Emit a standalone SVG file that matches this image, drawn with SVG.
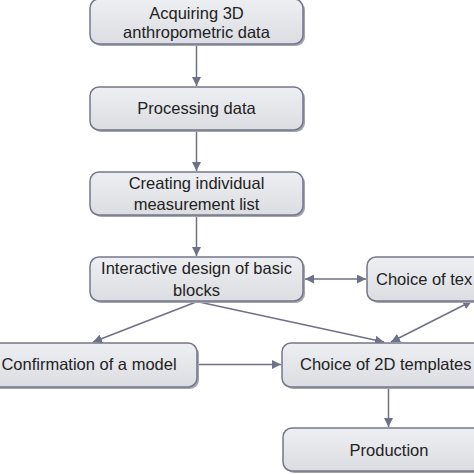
<svg xmlns="http://www.w3.org/2000/svg" width="474" height="474" viewBox="0 0 474 474">
<style>
.box{fill:url(#g);stroke:#74778a;stroke-width:1.5}
.sh{fill:#a3a5b2}
.t{font-family:"Liberation Sans",Arial,sans-serif;font-size:16.5px;fill:#222;text-anchor:middle}
.tl{font-family:"Liberation Sans",Arial,sans-serif;font-size:16.5px;fill:#222}
.c{stroke:#6e7188;stroke-width:1.5;fill:none}
</style>
<defs>
<linearGradient id="g" x1="0" y1="0" x2="0" y2="1">
<stop offset="0" stop-color="#eeeff2"/>
<stop offset="1" stop-color="#dcdde2"/>
</linearGradient>
<marker id="ah" viewBox="0 0 10 10" refX="10" refY="5" markerWidth="9" markerHeight="9" markerUnits="userSpaceOnUse" orient="auto-start-reverse">
<path d="M0,0 L10,5 L0,10 Z" fill="#6e7188"/>
</marker>
</defs>
<rect width="474" height="474" fill="#fff"/>
<g id="connectors">
<line class="c" x1="196.5" y1="45" x2="196.5" y2="86" marker-end="url(#ah)"/>
<line class="c" x1="196.5" y1="130" x2="196.5" y2="171" marker-end="url(#ah)"/>
<line class="c" x1="196.5" y1="216" x2="196.5" y2="256" marker-end="url(#ah)"/>
<line class="c" x1="305" y1="279" x2="366" y2="279" marker-start="url(#ah)" marker-end="url(#ah)"/>
<line class="c" x1="196" y1="302" x2="93" y2="342" marker-end="url(#ah)"/>
<line class="c" x1="199" y1="302" x2="384" y2="342" marker-end="url(#ah)"/>
<line class="c" x1="472" y1="301" x2="391" y2="342" marker-start="url(#ah)" marker-end="url(#ah)"/>
<line class="c" x1="199" y1="364.5" x2="281" y2="364.5" marker-end="url(#ah)"/>
<line class="c" x1="388.5" y1="387" x2="388.5" y2="427" marker-end="url(#ah)"/>
</g>
<g id="n1">
<rect class="sh" x="92" y="1" width="213" height="45" rx="9"/>
<rect class="box" x="90" y="-1" width="213" height="45" rx="9"/>
<text class="t" x="196.5" y="19">Acquiring 3D</text>
<text class="t" x="196.5" y="38">anthropometric data</text>
</g>
<g id="n2">
<rect class="sh" x="92" y="89" width="213" height="43" rx="9"/>
<rect class="box" x="90" y="87" width="213" height="43" rx="9"/>
<text class="t" x="196.5" y="114">Processing data</text>
</g>
<g id="n3">
<rect class="sh" x="92" y="174" width="213" height="43" rx="9"/>
<rect class="box" x="90" y="172" width="213" height="43" rx="9"/>
<text class="t" x="196.5" y="189">Creating individual</text>
<text class="t" x="196.5" y="210">measurement list</text>
</g>
<g id="n4">
<rect class="sh" x="92" y="259" width="213" height="44" rx="9"/>
<rect class="box" x="90" y="257" width="213" height="44" rx="9"/>
<text class="t" x="196.5" y="274">Interactive design of basic</text>
<text class="t" x="196.5" y="296">blocks</text>
</g>
<g id="n5">
<rect class="sh" x="369" y="259" width="213" height="44" rx="9"/>
<rect class="box" x="367" y="257" width="213" height="44" rx="9"/>
<text class="tl" x="376" y="285">Choice of tex</text>
</g>
<g id="n6">
<rect class="sh" x="-14" y="345" width="213" height="44" rx="9"/>
<rect class="box" x="-16" y="343" width="213" height="44" rx="9"/>
<text class="t" x="89" y="370">Confirmation of a model</text>
</g>
<g id="n7">
<rect class="sh" x="284" y="345" width="213" height="44" rx="9"/>
<rect class="box" x="282" y="343" width="213" height="44" rx="9"/>
<text class="tl" x="300" y="370">Choice of 2D templates</text>
</g>
<g id="n8">
<rect class="sh" x="285" y="430" width="213" height="43" rx="9"/>
<rect class="box" x="283" y="428" width="213" height="43" rx="9"/>
<text class="t" x="389" y="456">Production</text>
</g>
</svg>
